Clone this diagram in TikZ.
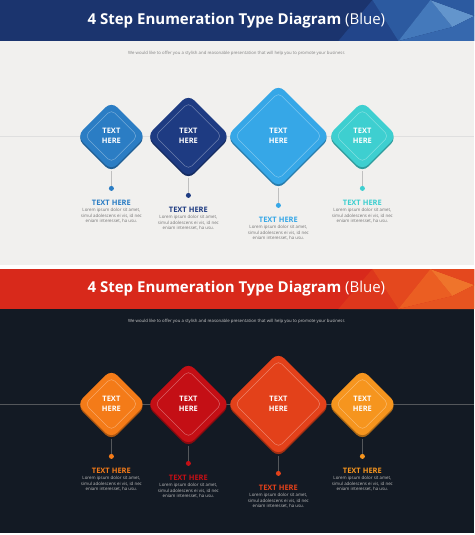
\documentclass[tikz,border=0pt]{standalone}
\usepackage{fontspec}
\setmainfont{Open Sans}
\usetikzlibrary{shapes.geometric,positioning}
\definecolor{pagebg}{HTML}{F1F0EE}
\definecolor{darkbg}{HTML}{131A24}
\definecolor{navy}{HTML}{1B346E}
\definecolor{redbar}{HTML}{D8291B}
\definecolor{tA}{HTML}{2B7DC4}
\definecolor{tB}{HTML}{1E3B82}
\definecolor{tC}{HTML}{36A7E7}
\definecolor{tD}{HTML}{3ECFD0}
\definecolor{bA}{HTML}{F47B18}
\definecolor{bB}{HTML}{C40F15}
\definecolor{bC}{HTML}{E3411A}
\definecolor{bD}{HTML}{F6951E}
\definecolor{nvA}{HTML}{22458A}
\definecolor{nvB}{HTML}{2C5AA0}
\definecolor{nvC}{HTML}{4479BB}
\definecolor{nvD}{HTML}{6395CC}
\definecolor{nvE}{HTML}{3668AE}
\definecolor{rdA}{HTML}{DD371C}
\definecolor{rdB}{HTML}{E4481E}
\definecolor{rdC}{HTML}{EB5E22}
\definecolor{rdD}{HTML}{EF742B}
\definecolor{rdE}{HTML}{E75420}

\begin{document}
\begin{tikzpicture}[
        x=1pt,y=-1pt,
        stepdia/.style={diamond,rounded corners=8pt,inner sep=0pt,minimum size={#1},
            text=white,align=center,font=\bfseries\fontsize{7.5}{10}\selectfont},
        rim/.style={diamond,rounded corners=5pt,inner sep=0pt,minimum size={#1},
            draw=white,draw opacity=0.35,line width=0.5pt},
        dotnode/.style={circle,inner sep=0pt,minimum size=5pt},
        headtxt/.style={inner sep=0pt,font=\bfseries\fontsize{7.5}{9}\selectfont},
        bodytxt/.style={inner sep=0pt,align=center,font=\fontsize{4.4}{5.2}\selectfont},
        titletxt/.style={text=white,font=\bfseries\fontsize{15}{18}\selectfont},
        subtxt/.style={font=\fontsize{4.3}{5}\selectfont}
    ]
    \fill[white] (0,0) rectangle (474,535);
    \fill[pagebg] (0,41) rectangle (474,265);
    \fill[navy] (0,0) rectangle (474,41);
    \fill[darkbg] (0,309) rectangle (474,533);
    \fill[redbar] (0,269) rectangle (474,309);

    \fill[nvA] (338,41) -- (372,0) -- (398,41) -- cycle;
    \fill[nvB] (372,0) -- (430,0) -- (398,41) -- cycle;
    \fill[nvC] (398,41) -- (430,0) -- (452,27) -- cycle;
    \fill[nvD] (430,0) -- (474,16) -- (452,27) -- cycle;
    \fill[nvB] (430,0) -- (474,0) -- (474,16) -- cycle;
    \fill[nvE] (398,41) -- (452,27) -- (474,16) -- (474,41) -- cycle;

    \fill[rdA] (338,309) -- (372,269) -- (398,309) -- cycle;
    \fill[rdB] (372,269) -- (430,269) -- (398,309) -- cycle;
    \fill[rdC] (398,309) -- (430,269) -- (452,296) -- cycle;
    \fill[rdD] (430,269) -- (474,285) -- (452,296) -- cycle;
    \fill[rdB] (430,269) -- (474,269) -- (474,285) -- cycle;
    \fill[rdE] (398,309) -- (452,296) -- (474,285) -- (474,309) -- cycle;

    \node[titletxt] (ttitle) at (236,21) {4 Step Enumeration Type Diagram {\mdseries(Blue)}};
    \node[subtxt,text=gray] (tsub) at (236,53) {We would like to offer you a stylish and reasonable presentation that will help you to promote your business};
    \node[titletxt] (btitle) at (236,289) {4 Step Enumeration Type Diagram {\mdseries(Blue)}};
    \node[subtxt,text=gray!40] (bsub) at (236,321) {We would like to offer you a stylish and reasonable presentation that will help you to promote your business};

    \coordinate (tl) at (0,136);
    \coordinate (tr) at (474,136);
    \coordinate (bl) at (0,404);
    \coordinate (br) at (474,404);
    \draw[gray!25,line width=0.8pt] (tl) -- (tr);
    \draw[gray!60!darkbg,line width=0.8pt] (bl) -- (br);

    \foreach \cx/\hs/\cl [count=\i] in {111/31/tA,188/38/tB,278/48/tC,362/31/tD} {
        \node[stepdia={2*\hs pt+7pt},fill=\cl!75!black] (tsh\i) at (\cx,138) {};
        \node[stepdia={2*\hs pt+7pt},fill=\cl] (td\i) at (\cx,136) {TEXT\\HERE};
        \node[rim={2*\hs pt-9pt}] (tr\i) at (td\i) {};
        \node[dotnode,fill=\cl,below=15pt of td\i] (tdot\i) {};
        \draw[gray!50,line width=0.6pt] (td\i.south) -- (tdot\i);
        \node[headtxt,text=\cl,below=8.5pt of tdot\i] (thead\i) {TEXT HERE};
        \node[bodytxt,text=gray!90!black,below=3pt of thead\i] (tbody\i) {Lorem ipsum dolor sit amet,\\simul adolescens ei vis, id nec\\eniam interesset, ha usu.};
    }

    \foreach \cx/\hs/\cl [count=\i] in {111/31/bA,188/38/bB,278/48/bC,362/31/bD} {
        \node[stepdia={2*\hs pt+7pt},fill=\cl!70!black] (bsh\i) at (\cx,406) {};
        \node[stepdia={2*\hs pt+7pt},fill=\cl] (bd\i) at (\cx,404) {TEXT\\HERE};
        \node[rim={2*\hs pt-9pt}] (br\i) at (bd\i) {};
        \node[dotnode,fill=\cl,below=15pt of bd\i] (bdot\i) {};
        \draw[gray!60!darkbg,line width=0.6pt] (bd\i.south) -- (bdot\i);
        \node[headtxt,text=\cl,below=8.5pt of bdot\i] (bhead\i) {TEXT HERE};
        \node[bodytxt,text=gray!50,below=3pt of bhead\i] (bbody\i) {Lorem ipsum dolor sit amet,\\simul adolescens ei vis, id nec\\eniam interesset, ha usu.};
    }
\end{tikzpicture}
\end{document}
